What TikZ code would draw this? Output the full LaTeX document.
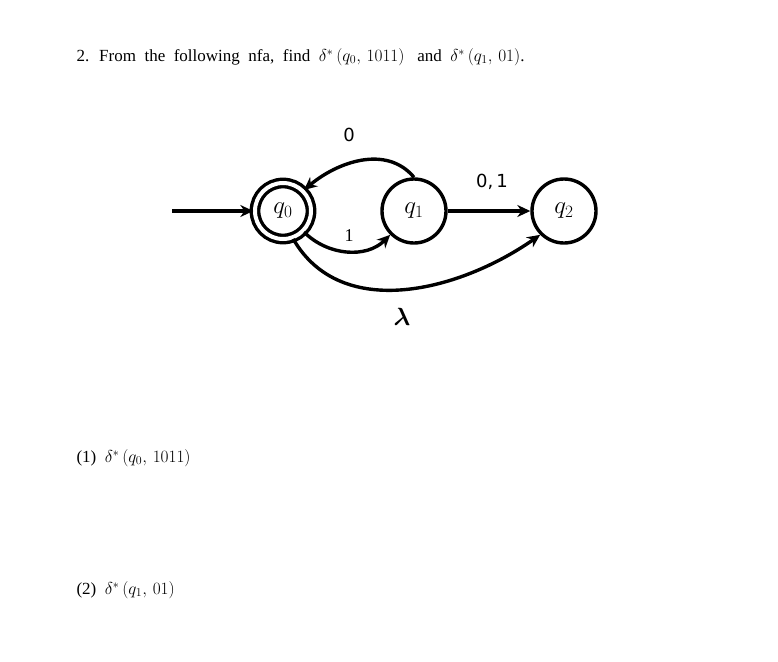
\documentclass[tikz,border=0pt]{standalone}
\usepackage{amsmath,amssymb}
\usepackage{fontspec}
\setmainfont{Liberation Serif}
\newfontfamily\lab{DejaVu Sans}
\usetikzlibrary{arrows.meta}
\begin{document}
\begin{tikzpicture}[x=1pt,y=-1pt,
  st/.style={circle,draw,line width=3.4pt,minimum size=64pt,inner sep=0pt,font=\fontsize{26}{26}\selectfont},
  ed/.style={line width=3.4pt,-{Stealth[length=13pt,width=12pt]}},
  lb/.style={font=\lab\fontsize{18}{18}\selectfont},
  tx/.style={anchor=west,font=\fontsize{17}{17}\selectfont}]
\useasboundingbox (0,0) rectangle (778,661);
\node[tx] (title) at (73,57) {2. \ From \ the \ following \ nfa, \ find \ $\delta^*\,(q_0,\,1011)$ \ \ and \ $\delta^*\,(q_1,\,01)$.};
\node[st,double,double distance=4pt,minimum size=56pt] (q0) at (283,211) {$q_0$};
\node[st] (q1) at (414,211) {$q_1$};
\node[st] (q2) at (564,211) {$q_2$};
\coordinate (s) at (172,211);
\draw[ed] (s) -- (q0);
\draw[ed] (q1.north) to[out=130,in=40] (q0.north east);
\draw[ed] (q0.south east) to[out=-45,in=-135] (q1.south west);
\draw[ed] (q1) -- (q2);
\draw[ed] (q0.-70) to[out=-60,in=-145] (q2.south west);
\node[lb] (l0) at (349,135) {0};
\node[tx,anchor=center,font=\fontsize{18}{18}\selectfont] (l1) at (349,236) {1};
\node[lb] (l01) at (492,182) {0,\,1};
\node[font=\fontsize{24}{24}\selectfont] (lam) at (402,317) {$\boldsymbol{\lambda}$};
\node[tx] (p1) at (73,458) {(1) \ $\delta^*\,(q_0,\,1011)$};
\node[tx] (p2) at (73,590) {(2) \ $\delta^*\,(q_1,\,01)$};
\end{tikzpicture}
\end{document}
